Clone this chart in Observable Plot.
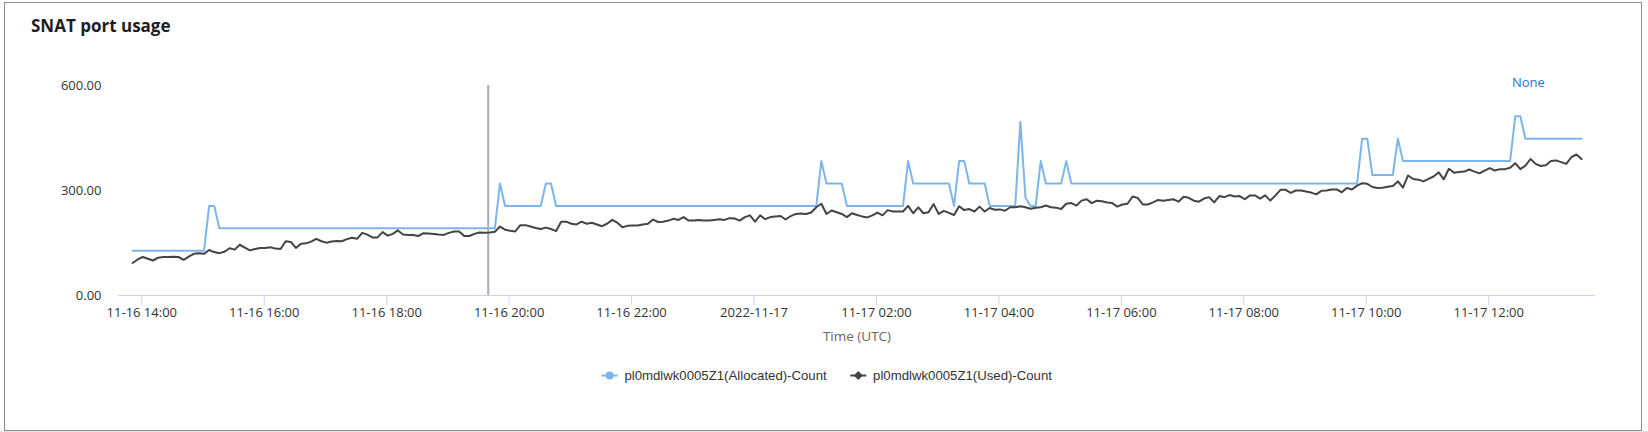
<!DOCTYPE html>
<html>
<head>
<meta charset="utf-8">
<script src="https://cdn.jsdelivr.net/npm/d3@7"></script>
<script src="https://cdn.jsdelivr.net/npm/@observablehq/plot@0.6"></script>
<style>
  html, body { margin: 0; padding: 0; background: #fff; width: 1648px; height: 432px; overflow: hidden; }
  #frame { position: absolute; left: 4px; top: 2px; width: 1638px; height: 429px; box-sizing: border-box; border: 1px solid #8c8c8c; }
  #shade { position: absolute; left: 0; top: 431px; width: 1648px; height: 1px; background: #e3e3e3; }
  #title { position: absolute; left: 31px; top: 15.7px; font: 700 17px/20px "Open Sans", sans-serif; color: #1e1e1e; white-space: nowrap; }
  #chart { position: absolute; left: 0; top: 0; }
  #none { position: absolute; left: 1512px; top: 73.3px; font: 400 13px/18px "Open Sans", sans-serif; color: #2f6fd6; }
  #legend { position: absolute; left: 0; top: 362px; }
</style>
</head>
<body>
<div id="frame"></div>
<div id="shade"></div>
<div id="title">SNAT port usage</div>
<div id="chart"></div>
<div id="none">None</div>
<div id="legend"></div>
<script>
// ---------- data ----------
const seriesNames = ["pl0mdlwk0005Z1(Allocated)-Count", "pl0mdlwk0005Z1(Used)-Count"];
const seriesColors = ["#7cb5ec", "#434348"];
const startTime = "2022-11-16T13:51:00Z";   // first sample, 5-minute samples
const stepMinutes = 5;
const xDomain = ["2022-11-16T13:37:10Z", "2022-11-17T13:44:40Z"];
const cursorTime = "2022-11-16T19:39:30Z";
const xTickValues = [
  "2022-11-16T14:00:00Z", "2022-11-16T16:00:00Z", "2022-11-16T18:00:00Z", "2022-11-16T20:00:00Z",
  "2022-11-16T22:00:00Z", "2022-11-17T00:00:00Z", "2022-11-17T02:00:00Z", "2022-11-17T04:00:00Z",
  "2022-11-17T06:00:00Z", "2022-11-17T08:00:00Z", "2022-11-17T10:00:00Z", "2022-11-17T12:00:00Z"
];
const yTickValues = [0, 300, 600];

const allocated = [
  128,128,128,128,128,128,128,128,128,128,
  128,128,128,128,128,256,256,192,192,192,
  192,192,192,192,192,192,192,192,192,192,
  192,192,192,192,192,192,192,192,192,192,
  192,192,192,192,192,192,192,192,192,192,
  192,192,192,192,192,192,192,192,192,192,
  192,192,192,192,192,192,192,192,192,192,
  192,192,320,256,256,256,256,256,256,256,
  256,320,320,256,256,256,256,256,256,256,
  256,256,256,256,256,256,256,256,256,256,
  256,256,256,256,256,256,256,256,256,256,
  256,256,256,256,256,256,256,256,256,256,
  256,256,256,256,256,256,256,256,256,256,
  256,256,256,256,256,384,320,320,320,320,
  256,256,256,256,256,256,256,256,256,256,
  256,256,384,320,320,320,320,320,320,320,
  320,256,384,384,320,320,320,320,256,256,
  256,256,256,256,496,280,256,256,384,320,
  320,320,320,384,320,320,320,320,320,320,
  320,320,320,320,320,320,320,320,320,320,
  320,320,320,320,320,320,320,320,320,320,
  320,320,320,320,320,320,320,320,320,320,
  320,320,320,320,320,320,320,320,320,320,
  320,320,320,320,320,320,320,320,320,320,
  320,448,448,344,344,344,344,344,448,384,
  384,384,384,384,384,384,384,384,384,384,
  384,384,384,384,384,384,384,384,384,384,
  384,512,512,448,448,448,448,448,448,448,
  448,448,448,448,448
];

const used = [
  93,103,110,105,100,108,110,110,111,110,
  102,111,119,121,119,130,124,121,125,135,
  131,145,137,129,133,136,136,138,134,133,
  155,153,136,148,149,154,162,155,151,154,
  156,155,161,165,162,179,174,166,166,181,
  171,176,186,174,173,173,170,178,177,176,
  174,173,179,183,183,170,170,176,180,179,
  180,182,197,188,185,183,201,201,197,193,
  190,194,190,184,211,211,205,203,211,205,
  208,203,198,205,216,208,195,199,200,200,
  203,205,217,210,211,214,219,216,224,214,
  214,216,214,214,216,218,216,221,220,214,
  224,229,211,229,218,224,226,227,217,227,
  233,234,233,237,252,262,233,243,238,233,
  224,235,230,226,223,229,237,229,244,240,
  240,240,256,235,252,235,238,261,233,242,
  236,230,255,244,247,240,254,240,250,245,
  246,242,252,252,255,252,248,251,252,257,
  252,251,247,262,264,257,271,275,264,271,
  269,266,264,254,260,262,283,279,260,260,
  266,273,271,273,275,268,282,279,271,268,
  277,281,266,284,281,287,283,284,275,286,
  286,277,286,271,286,302,302,293,300,300,
  297,294,289,299,300,303,303,295,307,303,
  314,321,319,310,307,308,311,313,326,308,
  343,333,331,326,333,340,352,332,362,351,
  353,354,360,354,349,357,364,357,361,361,
  365,378,361,371,390,376,370,372,384,386,
  381,376,395,403,390
];

// ---------- table ----------
const t0 = new Date(startTime).getTime();
const rows = [];
[allocated, used].forEach((vals, s) => {
  vals.forEach((v, i) => rows.push({ time: new Date(t0 + i * stepMinutes * 60000), value: v, series: seriesNames[s] }));
});

const fmtDay = d3.utcFormat("%Y-%m-%d");
const fmtTime = d3.utcFormat("%m-%d %H:%M");
const xFmt = d => (d.getUTCHours() === 0 && d.getUTCMinutes() === 0) ? fmtDay(d) : fmtTime(d);

const chart = Plot.plot({
  width: 1648,
  height: 345,
  marginLeft: 118,
  marginRight: 53,
  marginTop: 85,
  marginBottom: 50,
  style: { fontFamily: "'Open Sans', sans-serif", fontSize: "13px", color: "#333", background: "transparent", overflow: "visible" },
  x: { type: "utc", domain: xDomain.map(d => new Date(d)) },
  y: { domain: [0, 600] },
  color: { domain: seriesNames, range: seriesColors },
  marks: [
    Plot.axisY({ ticks: yTickValues, tickSize: 0, tickPadding: 17, tickFormat: d => d.toFixed(2), label: null, fill: "#333" }),
    Plot.axisX({ ticks: xTickValues.map(d => new Date(d)), tickSize: 10, tickPadding: 2, tickFormat: xFmt, label: null, stroke: "#ccd6eb", fill: "#333" }),
    Plot.ruleY([0], { stroke: "#ccd6eb", strokeWidth: 1 }),
    Plot.text(["Time (UTC)"], { frameAnchor: "bottom", dy: 45, fill: "#666", fontSize: 13.5 }),
    Plot.ruleX([new Date(cursorTime)], { y1: 0, y2: 600, stroke: "#ababab", strokeWidth: 2 }),
    Plot.line(rows.filter(d => d.series === seriesNames[0]), { x: "time", y: "value", stroke: "series", strokeWidth: 2 }),
    Plot.line(rows.filter(d => d.series === seriesNames[1]), { x: "time", y: "value", stroke: "series", strokeWidth: 2 })
  ]
});
document.getElementById("chart").appendChild(chart);

// ---------- legend ----------
const ns = "http://www.w3.org/2000/svg";
const lg = document.createElementNS(ns, "svg");
lg.setAttribute("width", 1648);
lg.setAttribute("height", 30);
const legendItems = [
  { name: seriesNames[0], color: seriesColors[0], x: 601.6, symbol: "circle" },
  { name: seriesNames[1], color: seriesColors[1], x: 850.3, symbol: "diamond" }
];
legendItems.forEach(it => {
  const cy = 13.5;
  const ln = document.createElementNS(ns, "line");
  ln.setAttribute("x1", it.x); ln.setAttribute("x2", it.x + 16);
  ln.setAttribute("y1", cy); ln.setAttribute("y2", cy);
  ln.setAttribute("stroke", it.color); ln.setAttribute("stroke-width", 2);
  lg.appendChild(ln);
  const cx = it.x + 8;
  if (it.symbol === "circle") {
    const c = document.createElementNS(ns, "circle");
    c.setAttribute("cx", cx); c.setAttribute("cy", cy); c.setAttribute("r", 4);
    c.setAttribute("fill", it.color);
    lg.appendChild(c);
  } else {
    const p = document.createElementNS(ns, "path");
    p.setAttribute("d", `M${cx},${cy - 4.5}L${cx + 4.5},${cy}L${cx},${cy + 4.5}L${cx - 4.5},${cy}Z`);
    p.setAttribute("fill", it.color);
    lg.appendChild(p);
  }
  const tx = document.createElementNS(ns, "text");
  tx.setAttribute("x", it.x + 22.8); tx.setAttribute("y", cy); tx.setAttribute("dy", "0.35em");
  tx.setAttribute("font-family", "'Liberation Sans', Arial, sans-serif");
  tx.setAttribute("font-size", "13.2px");
  tx.setAttribute("fill", "#333");
  tx.textContent = it.name;
  lg.appendChild(tx);
});
document.getElementById("legend").appendChild(lg);
</script>
</body>
</html>
